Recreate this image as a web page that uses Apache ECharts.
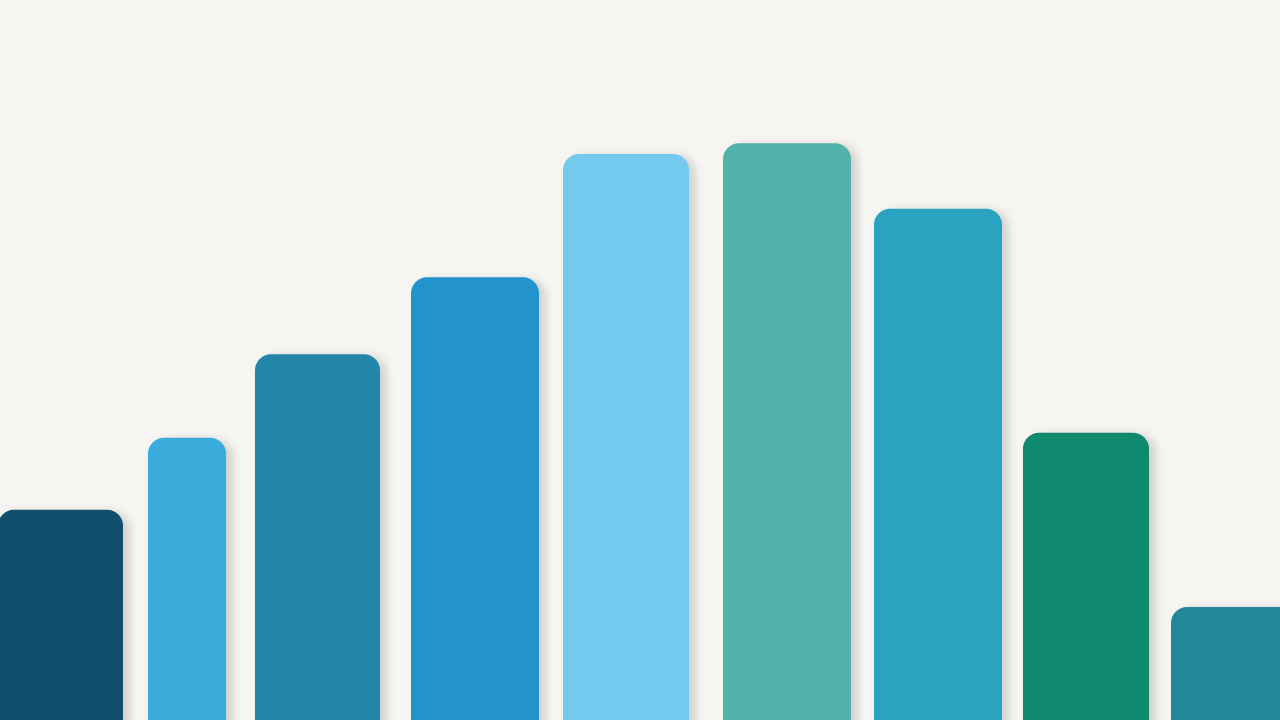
<!DOCTYPE html>
<html>
<head>
<meta charset="utf-8">
<script src="https://cdn.jsdelivr.net/npm/echarts@6/dist/echarts.min.js"></script>
<style>
html,body{margin:0;padding:0;background:#f6f5f1;}
#chart{width:1280px;height:720px;}
</style>
</head>
<body>
<div id="chart"></div>
<script>
// Data
const categories = ['A', 'B', 'C', 'D', 'E', 'F', 'G', 'H', 'I'];
const values = [29.2, 39.2, 50.8, 61.5, 78.6, 80.1, 71.0, 39.9, 15.7];
// Layout (x extents in axis units, 0..1280)
const barStart = [-2, 148, 255, 411, 563, 723, 874, 1023, 1171];
const barEnd   = [123, 226, 380, 539, 689, 851, 1002, 1149, 1300];
// Styles
const colors = ['#124e6e', '#3aacdb', '#2285a9', '#2394cb', '#72cbef', '#52b3aa', '#2aa3c1', '#0f8a6e', '#208896'];

const seriesData = categories.map((c, i) => ({ name: c, value: [barStart[i], barEnd[i], values[i]] }));

const chart = echarts.init(document.getElementById('chart'));
chart.setOption({
  backgroundColor: '#f6f5f1',
  animation: false,
  grid: { left: 0, right: 0, top: 0, bottom: 0 },
  xAxis: { type: 'value', min: 0, max: 1280, show: false },
  yAxis: { type: 'value', min: 0, max: 100, show: false },
  series: [{
    type: 'custom',
    clip: true,
    data: seriesData,
    renderItem: function (params, api) {
      const i = params.dataIndex;
      const p0 = api.coord([api.value(0), api.value(2)]);
      const p1 = api.coord([api.value(1), 0]);
      const x = p0[0], y = p0[1];
      const w = p1[0] - p0[0];
      const h = p1[1] - p0[1] + 20;
      return {
        type: 'rect',
        shape: { x: x, y: y, width: w, height: h, r: [16, 16, 0, 0] },
        style: {
          fill: colors[i],
          shadowColor: 'rgba(0,0,0,0.16)',
          shadowBlur: 10,
          shadowOffsetX: 6,
          shadowOffsetY: 2
        }
      };
    }
  }]
});
</script>
</body>
</html>
